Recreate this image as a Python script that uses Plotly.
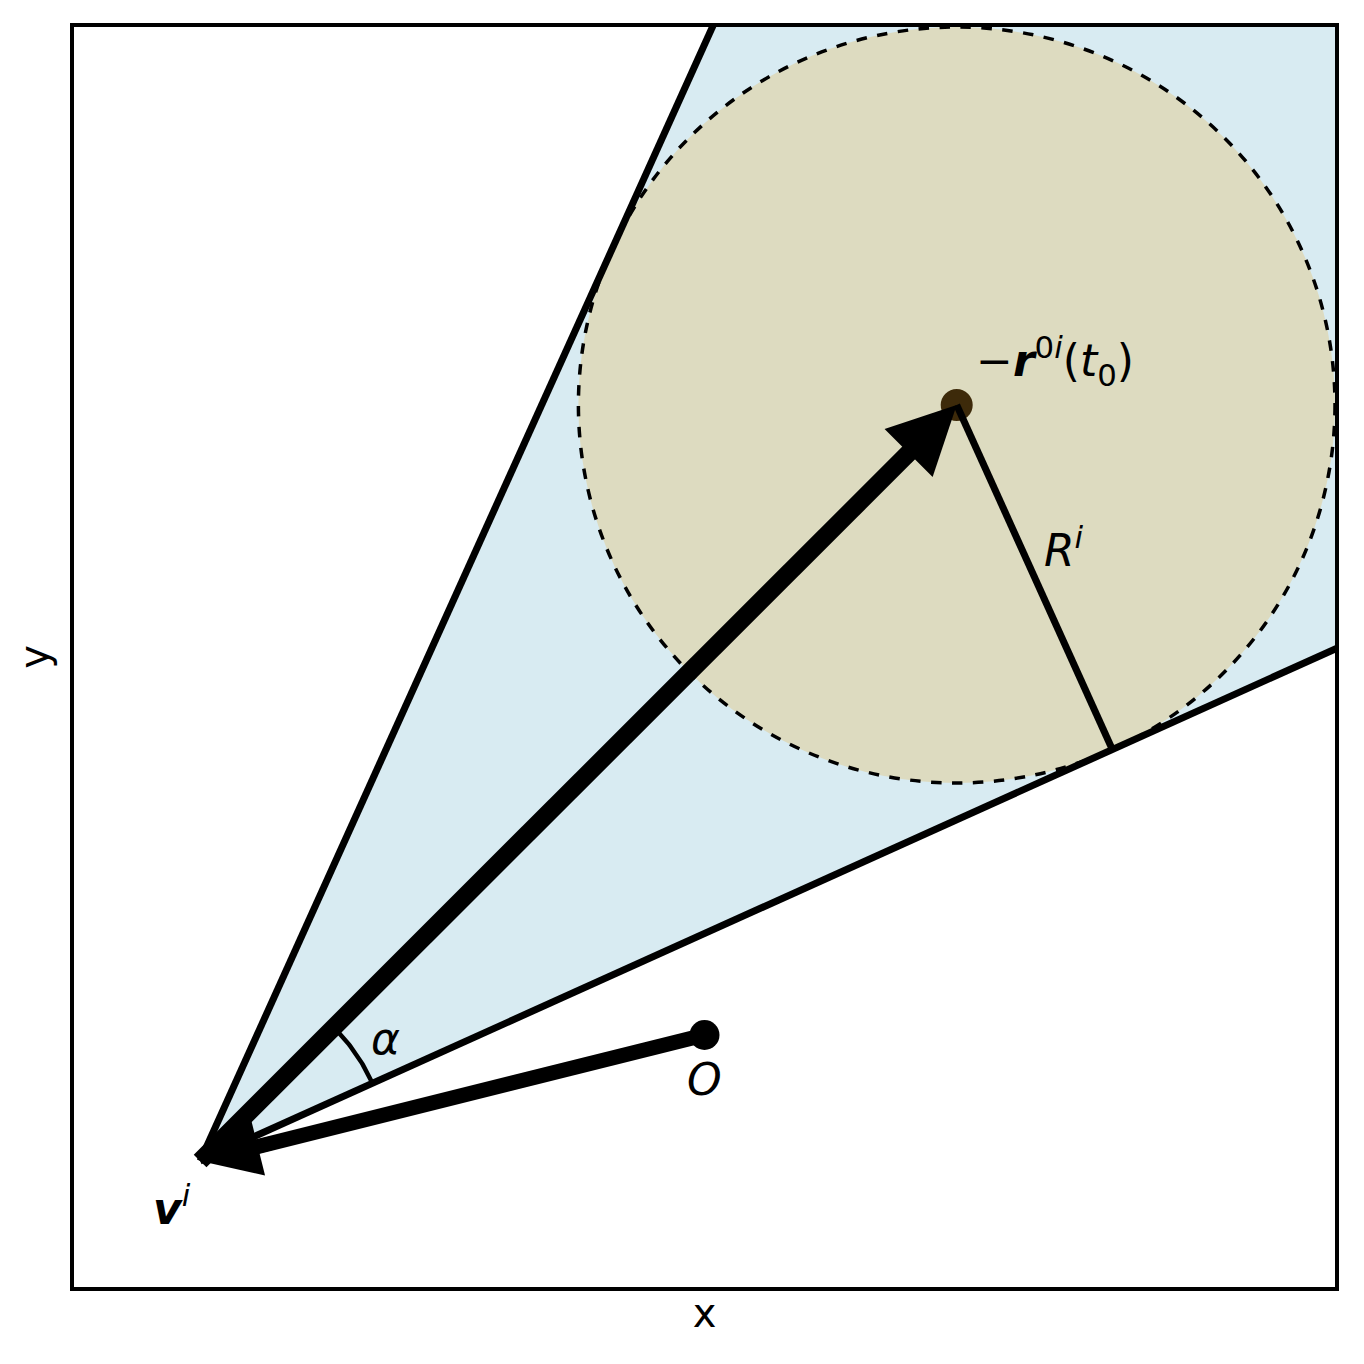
import numpy as np
import plotly.graph_objects as go

apex = [1.0, 1.0]
center = [7.0, 7.0]
origin = [5.0, 2.0]
radius = [3.0]
arc_radius = [1.5]
x_range = [0, 10]
y_range = [0, 10]

ax_, ay_ = apex
cx, cy = center
R = radius[0]
d = np.hypot(cx - ax_, cy - ay_)
phi = np.arctan2(cy - ay_, cx - ax_)
half = np.arcsin(R / d)
a_up, a_lo = phi + half, phi - half
L = 30
tl = np.sqrt(d**2 - R**2)
tang = (ax_ + tl*np.cos(a_lo), ay_ + tl*np.sin(a_lo))

fig = go.Figure()
shapes = []
shapes.append(dict(type="path", xref="x", yref="y",
    path=f"M {ax_},{ay_} L {ax_+L*np.cos(a_up)},{ay_+L*np.sin(a_up)} L {ax_+L*np.cos(a_lo)},{ay_+L*np.sin(a_lo)} Z",
    fillcolor="#d8ebf2", line=dict(width=0), layer="below"))
shapes.append(dict(type="circle", xref="x", yref="y", x0=cx-R, x1=cx+R, y0=cy-R, y1=cy+R,
    fillcolor="#dddbc0", line=dict(color="black", width=3.5, dash="dash"), layer="below"))
for a in (a_up, a_lo):
    shapes.append(dict(type="line", xref="x", yref="y", x0=ax_, y0=ay_,
        x1=ax_+L*np.cos(a), y1=ay_+L*np.sin(a), line=dict(color="black", width=7)))
shapes.append(dict(type="line", xref="x", yref="y", x0=cx, y0=cy, x1=tang[0], y1=tang[1],
    line=dict(color="black", width=7)))
fig.update_layout(shapes=shapes)

t = np.linspace(a_lo, phi, 40)
fig.add_trace(go.Scatter(x=ax_+arc_radius[0]*np.cos(t), y=ay_+arc_radius[0]*np.sin(t),
    mode="lines", line=dict(color="black", width=4.5), showlegend=False, hoverinfo="skip"))
fig.add_trace(go.Scatter(x=[ax_, cx-0.3*np.cos(phi)], y=[ay_, cy-0.3*np.sin(phi)], mode="lines",
    line=dict(color="black", width=18), showlegend=False))
po = np.arctan2(ay_-origin[1], ax_-origin[0])
fig.add_trace(go.Scatter(x=[origin[0], ax_-0.3*np.cos(po)], y=[origin[1], ay_-0.3*np.sin(po)], mode="lines",
    line=dict(color="black", width=15), showlegend=False))
fig.add_annotation(x=cx, y=cy, ax=cx-0.6*np.cos(phi), ay=cy-0.6*np.sin(phi), xref="x", yref="y",
    axref="x", ayref="y", showarrow=True, arrowhead=2, arrowsize=0.8, arrowwidth=17, arrowcolor="black", text="")
fig.add_annotation(x=ax_, y=ay_, ax=ax_+0.6*np.cos(po+np.pi), ay=ay_+0.6*np.sin(po+np.pi), xref="x", yref="y",
    axref="x", ayref="y", showarrow=True, arrowhead=2, arrowsize=0.85, arrowwidth=14, arrowcolor="black", text="")
fig.add_trace(go.Scatter(x=[cx], y=[cy], mode="markers", marker=dict(color="#3d2a0a", size=32), showlegend=False))
fig.add_trace(go.Scatter(x=[origin[0]], y=[origin[1]], mode="markers", marker=dict(color="black", size=30), showlegend=False))

f = dict(family="DejaVu Sans", size=44, color="black")
def lab(x, y, t):
    fig.add_annotation(x=x, y=y, xref="x", yref="y", text=t, showarrow=False, font=f)
lab(cx+0.78, cy+0.35, "−<b><i>r</i></b><sup>0<i>i</i></sup>(<i>t</i><sub>0</sub>)")
lab(tang[0]-0.38, tang[1]+1.6, "<i>R</i><sup><i>i</i></sup>")
lab(origin[0], origin[1]-0.35, "<i>O</i>")
lab(ax_-0.22, ay_-0.35, "<b><i>v</i></b><sup><i>i</i></sup>")
lab(ax_+1.47, ay_+0.97, "<i>α</i>")

tf = dict(family="DejaVu Sans", size=40, color="black")
ax_style = dict(showgrid=False, zeroline=False, showticklabels=False, ticks="",
    showline=True, linecolor="black", linewidth=4, mirror=True)
fig.update_xaxes(range=x_range, title=dict(text="x", font=tf, standoff=10), **ax_style)
fig.update_yaxes(range=y_range, title=dict(text="y", font=tf, standoff=10), **ax_style)
fig.update_layout(width=1364, height=1364, plot_bgcolor="white", paper_bgcolor="white",
    margin=dict(l=66, r=37, t=19, b=85), showlegend=False)
fig.write_html("out.html")
